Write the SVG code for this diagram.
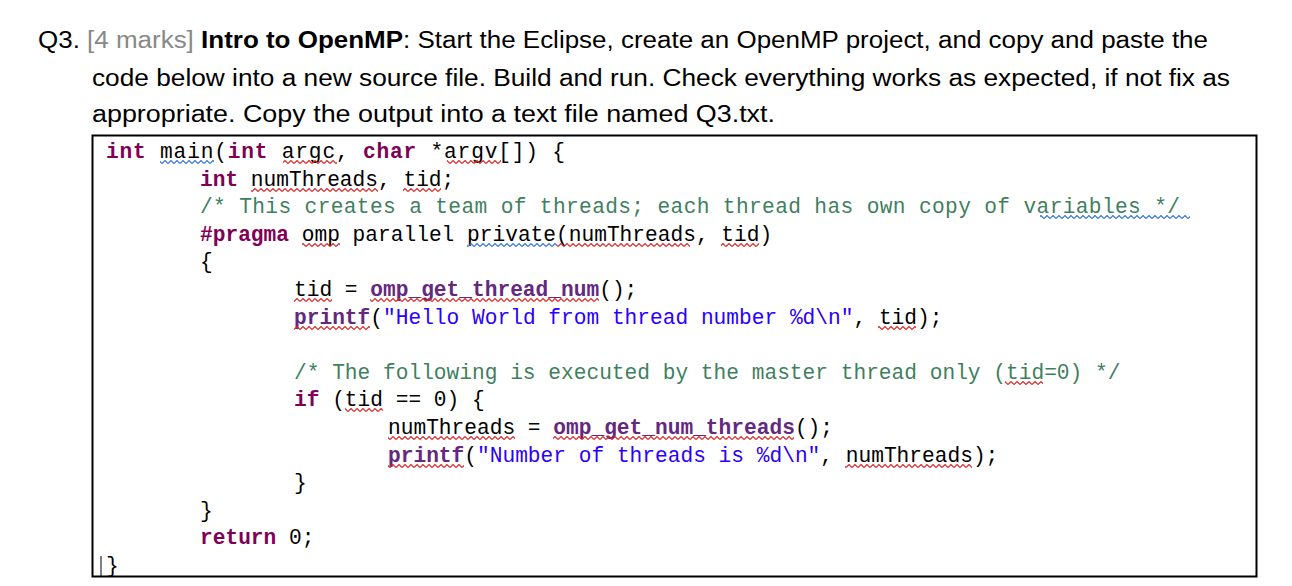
<svg xmlns="http://www.w3.org/2000/svg" width="1292" height="586" viewBox="0 0 1292 586">
<style>
.h{font-family:"Liberation Sans",Arial,sans-serif;font-size:23px;fill:#000}
.c{font-family:"Liberation Mono","DejaVu Sans Mono",monospace;font-size:21.2px;fill:#000;white-space:pre}
.k{fill:#7f0055;font-weight:bold}
.m{fill:#3f7f5f}
.s{fill:#2a00ff}
.f{fill:#642880;font-weight:bold}
</style>
<defs>
<pattern id="r" patternUnits="userSpaceOnUse" width="6" height="4"><path d="M0 3.5L3 0.5L6 3.5" fill="none" stroke="#e02020" stroke-width="1.1"/></pattern>
<pattern id="b" patternUnits="userSpaceOnUse" width="6" height="4"><path d="M0 3.5L3 0.5L6 3.5" fill="none" stroke="#3070e0" stroke-width="1.1"/></pattern>
</defs>
<text class="h" x="38" y="48" textLength="1170" lengthAdjust="spacingAndGlyphs">Q3. <tspan fill="#888">[4 marks]</tspan> <tspan font-weight="bold">Intro to OpenMP</tspan>: Start the Eclipse, create an OpenMP project, and copy and paste the</text>
<text class="h" x="92" y="86" textLength="1138" lengthAdjust="spacingAndGlyphs">code below into a new source file. Build and run. Check everything works as expected, if not fix as</text>
<text class="h" x="92" y="122" textLength="683" lengthAdjust="spacingAndGlyphs">appropriate. Copy the output into a text file named Q3.txt.</text>
<rect x="92.5" y="135.5" width="1164" height="441" fill="none" stroke="#000" stroke-width="2"/>
<line x1="101" y1="556" x2="101" y2="576" stroke="#000" stroke-width="1"/>
<g id="code">
<text class="c" x="106" y="158" textLength="459" lengthAdjust="spacing"><tspan class="k">int</tspan> main(<tspan class="k">int</tspan> argc, <tspan class="k">char</tspan> *argv[]) {</text>
<text class="c" x="200" y="185.6"><tspan class="k">int</tspan> numThreads, tid;</text>
<text class="c m" x="200" y="213.2" textLength="980" lengthAdjust="spacing">/* This creates a team of threads; each thread has own copy of variables */</text>
<text class="c" x="200" y="240.8"><tspan class="k">#pragma</tspan> omp parallel private(numThreads, tid)</text>
<text class="c" x="200" y="268.4">{</text>
<text class="c" x="294" y="296">tid = <tspan class="f">omp_get_thread_num</tspan>();</text>
<text class="c" x="294" y="323.6"><tspan class="f">printf</tspan>(<tspan class="s">"Hello World from thread number %d\n"</tspan>, tid);</text>
<text class="c m" x="294" y="378.8">/* The following is executed by the master thread only (tid=0) */</text>
<text class="c" x="294" y="406.4"><tspan class="k">if</tspan> (tid == 0) {</text>
<text class="c" x="388" y="434">numThreads = <tspan class="f">omp_get_num_threads</tspan>();</text>
<text class="c" x="388" y="461.6"><tspan class="f">printf</tspan>(<tspan class="s">"Number of threads is %d\n"</tspan>, numThreads);</text>
<text class="c" x="294" y="489.2">}</text>
<text class="c" x="200" y="516.8">}</text>
<text class="c" x="200" y="544.4"><tspan class="k">return</tspan> 0;</text>
<text class="c" x="106" y="572">}</text>
</g>
<g id="squiggles">
<g transform="translate(0,160)"><rect x="160" width="54" height="4" fill="url(#b)"/><rect x="283" width="54" height="4" fill="url(#r)"/><rect x="447" width="54" height="4" fill="url(#r)"/></g>
<g transform="translate(0,188)"><rect x="251" width="127" height="4" fill="url(#r)"/><rect x="403" width="38" height="4" fill="url(#r)"/></g>
<g transform="translate(0,215)"><rect x="1040" width="150" height="4" fill="url(#b)"/></g>
<g transform="translate(0,243)"><rect x="302" width="38" height="4" fill="url(#r)"/><rect x="467" width="90" height="4" fill="url(#b)"/><rect x="557" width="133" height="4" fill="url(#r)"/><rect x="721" width="38" height="4" fill="url(#r)"/></g>
<g transform="translate(0,298)"><rect x="294" width="38" height="4" fill="url(#r)"/><rect x="370" width="229" height="4" fill="url(#r)"/></g>
<g transform="translate(0,326)"><rect x="294" width="76" height="4" fill="url(#r)"/><rect x="878" width="38" height="4" fill="url(#r)"/></g>
<g transform="translate(0,381)"><rect x="1005" width="38" height="4" fill="url(#r)"/></g>
<g transform="translate(0,408)"><rect x="345" width="38" height="4" fill="url(#r)"/></g>
<g transform="translate(0,436)"><rect x="388" width="127" height="4" fill="url(#r)"/><rect x="553" width="241" height="4" fill="url(#r)"/></g>
<g transform="translate(0,464)"><rect x="388" width="76" height="4" fill="url(#r)"/><rect x="845" width="127" height="4" fill="url(#r)"/></g>
</g>
</svg>
